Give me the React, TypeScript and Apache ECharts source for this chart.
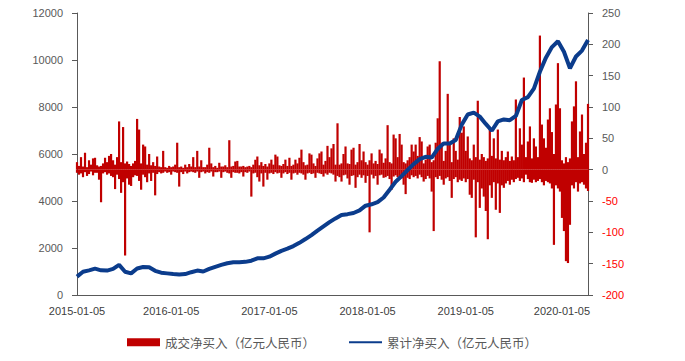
import React, { useEffect, useRef } from "react";
import * as echarts from "echarts";

// Daily net buy (亿元), drawn per ~2px column as the buy peak and sell trough
const flowUp = [
  12,6,20,5,27,4,15,8,18,19,7,5,6,10,19,12,
  22,25,15,8,20,77,12,68,10,13,9,6,10,14,81,64,
  10,40,37,8,25,7,12,6,21,5,4,30,4,3,6,4,
  5,8,43,4,5,3,8,4,9,5,20,4,30,5,15,4,
  4,8,35,10,4,6,3,11,5,5,7,4,47,5,6,13,
  14,5,5,6,4,5,6,4,8,16,21,7,12,6,9,5,
  10,16,8,24,21,7,6,9,16,6,19,6,8,16,10,19,
  32,12,7,8,26,24,10,6,18,26,29,8,14,38,20,34,
  41,8,74,8,10,25,37,10,9,32,35,8,12,41,15,29,
  12,8,15,26,10,14,9,32,26,11,18,71,12,10,56,50,
  20,57,40,12,10,15,20,40,29,40,22,52,45,10,16,37,
  40,12,15,43,82,173,43,14,30,121,40,12,50,30,16,84,
  59,69,30,53,18,15,40,20,110,16,25,20,14,18,66,22,
  50,18,64,16,30,15,20,29,14,21,15,112,20,66,40,147,
  20,45,69,18,50,37,20,214,72,50,35,80,98,60,25,104,
  170,98,15,10,20,12,18,77,101,141,20,61,88,25,43,105,
];
const flowDown = [
  -5,-8,-6,-12,-4,-10,-7,-3,-9,-5,-5,-16,-52,-6,-4,-8,
  -6,-10,-12,-31,-8,-15,-37,-20,-137,-14,-24,-26,-12,-9,-10,-18,
  -32,-8,-12,-20,-6,-18,-5,-41,-7,-4,-6,-5,-3,-5,-4,-8,
  -3,-4,-5,-27,-4,-7,-3,-6,-4,-3,-4,-5,-3,-13,-4,-3,
  -6,-4,-5,-3,-11,-4,-4,-3,-13,-4,-3,-5,-6,-13,-4,-5,
  -5,-6,-4,-11,-4,-5,-3,-43,-6,-5,-12,-19,-6,-27,-5,-16,
  -6,-5,-7,-4,-6,-5,-13,-6,-4,-7,-5,-16,-6,-5,-8,-5,
  -6,-8,-16,-6,-5,-7,-6,-13,-5,-6,-7,-11,-6,-8,-5,-6,
  -8,-19,-10,-12,-19,-9,-8,-14,-24,-10,-9,-29,-12,-8,-13,-9,
  -21,-10,-100,-8,-14,-10,-24,-9,-8,-13,-12,-10,-15,-32,-11,-9,
  -12,-10,-14,-24,-39,-13,-15,-9,-12,-10,-14,-8,-12,-19,-15,-10,
  -14,-35,-98,-12,-15,-10,-16,-24,-14,-12,-18,-45,-15,-12,-20,-16,
  -18,-14,-20,-15,-40,-45,-16,-108,-20,-61,-30,-43,-66,-111,-25,-45,
  -20,-64,-22,-69,-25,-29,-22,-18,-24,-16,-20,-15,-13,-18,-14,-20,
  -8,-15,-20,-21,-16,-20,-18,-15,-20,-25,-18,-20,-22,-30,-120,-25,
  -30,-35,-77,-98,-146,-149,-88,-25,-30,-20,-35,-22,-20,-24,-30,-34,
];

// Cumulative net buy (亿元)
const cumulative = [
  780,990,1050,1120,1050,1040,1110,1280,990,920,
  1130,1190,1180,1030,950,920,890,870,890,970,
  1040,1000,1110,1200,1280,1350,1390,1390,1410,1460,
  1560,1560,1630,1760,1880,1970,2080,2220,2380,2550,
  2740,2920,3100,3260,3400,3440,3490,3600,3800,3860,
  3950,4150,4480,4820,5060,5320,5570,5780,5880,5850,
  6220,6450,6450,6600,7250,7680,7760,7590,7280,6990,
  7390,7470,7440,7620,8300,8420,8780,9500,10100,10550,
  10800,10350,9650,10150,10400,10850,
];

const xTickLabels = ["2015-01-05", "2016-01-05", "2017-01-05", "2018-01-05", "2019-01-05", "2020-01-05"];
const xTickIndex = [0, 47, 96, 145, 194, 242];

const barName = "成交净买入（亿元人民币）";
const lineName = "累计净买入（亿元人民币）";

export default function App() {
  const ref = useRef<HTMLDivElement>(null);
  useEffect(() => {
    document.body.style.margin = "0";
    if (!ref.current) return;
    const chart = echarts.init(ref.current, null, { renderer: "svg" });
    const barCats = flowUp.map((_, i) => String(i));
    const lineCats = cumulative.map((_, i) => String(i));
    const labelFont = { fontFamily: "Liberation Sans, Arial, sans-serif", fontSize: 11 };
    chart.setOption({
      animation: false,
      grid: { left: 77, right: 97, top: 13, bottom: 66, containLabel: false },
      legend: {
        left: 122,
        top: 331,
        itemWidth: 33,
        itemHeight: 8,
        itemGap: 33,
        textStyle: { color: "#595959", fontSize: 12.5, fontFamily: "Noto Sans CJK SC, sans-serif" },
        data: [
          { name: barName, icon: "rect" },
          { name: lineName, itemStyle: { opacity: 0 } },
        ],
      },
      xAxis: [
        {
          type: "category",
          data: barCats,
          boundaryGap: false,
          axisLine: { show: true, lineStyle: { color: "#595959", width: 1 } },
          axisTick: { show: false },
          axisLabel: {
            ...labelFont,
            color: "#404040",
            margin: 10,
            interval: (index: number) => xTickIndex.includes(index),
            formatter: (_v: string, index: number) => {
              const k = xTickIndex.indexOf(index);
              return k >= 0 ? xTickLabels[k] : "";
            },
          },
          splitLine: { show: false },
        },
        {
          type: "category",
          data: lineCats,
          boundaryGap: false,
          show: false,
        },
      ],
      yAxis: [
        {
          type: "value",
          min: 0,
          max: 12000,
          interval: 2000,
          position: "left",
          axisLine: { show: true, lineStyle: { color: "#595959" } },
          axisTick: { show: true, length: 5, lineStyle: { color: "#595959" } },
          axisLabel: { ...labelFont, color: "#595959", margin: 14, formatter: (v: number) => String(v) },
          splitLine: { show: false },
        },
        {
          type: "value",
          min: -200,
          max: 250,
          interval: 50,
          position: "right",
          axisLine: { show: true, lineStyle: { color: "#595959" } },
          axisTick: { show: true, length: 5, lineStyle: { color: "#595959" } },
          axisLabel: {
            ...labelFont,
            margin: 14,
            formatter: (v: number) => String(v),
            color: (v: any) => (Number(v) < 0 ? "#ff0000" : "#595959"),
          },
          splitLine: { show: false },
        },
      ],
      series: [
        {
          name: barName,
          type: "bar",
          xAxisIndex: 0,
          yAxisIndex: 1,
          stack: "flow",
          barWidth: 2.2,
          itemStyle: { color: "#c00000" },
          data: flowUp,
        },
        {
          name: barName,
          type: "bar",
          xAxisIndex: 0,
          yAxisIndex: 1,
          stack: "flow",
          barWidth: 2.2,
          itemStyle: { color: "#c00000" },
          data: flowDown,
        },
        {
          name: lineName,
          type: "line",
          xAxisIndex: 1,
          yAxisIndex: 0,
          symbol: "none",
          lineStyle: { color: "#0b3c8c", width: 4 },
          itemStyle: { color: "#0b3c8c" },
          data: cumulative,
          z: 3,
        },
      ],
    });
    return () => chart.dispose();
  }, []);
  return <div ref={ref} style={{ width: 685, height: 361 }} />;
}
